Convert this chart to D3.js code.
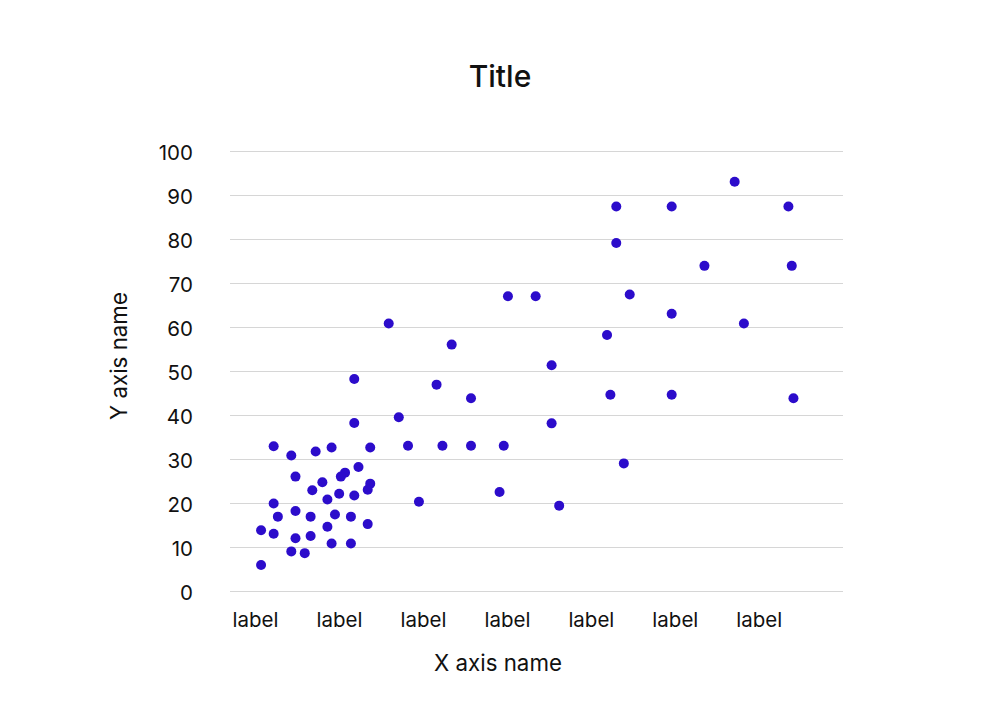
<!DOCTYPE html>
<html>
<head>
<meta charset="utf-8">
<script src="https://cdn.jsdelivr.net/npm/d3@7"></script>
<style>
  html, body { margin: 0; padding: 0; background: #fff; }
  svg { display: block; font-family: Inter, "Noto Sans", sans-serif; }
</style>
</head>
<body>
<svg id="chart" width="1000" height="721"></svg>
<script>
const title = "Title";
const xAxisName = "X axis name";
const yAxisName = "Y axis name";
const xTickLabels = ["label", "label", "label", "label", "label", "label", "label"];
const yTicks = [0, 10, 20, 30, 40, 50, 60, 70, 80, 90, 100];

const xValues = [
  1.48, 1.48, 0.52, 0.73, 1.02, 1.21, 1.67, 1.53, 1.37, 1.32,
  0.78, 1.10, 0.98, 1.67, 1.64, 1.16, 1.30, 1.48, 0.52, 0.57,
  0.78, 0.96, 1.25, 1.44, 1.64, 1.16, 0.37, 0.52, 0.78, 0.96,
  1.21, 1.44, 0.73, 0.89, 0.37,
  1.89, 2.64, 3.83, 2.46, 2.87, 2.01, 3.83, 2.12, 2.53, 2.87,
  3.26, 3.21, 2.25, 3.92, 3.31, 3.64,
  6.01, 4.60, 5.26, 6.65, 4.60, 5.65, 6.69, 4.76, 5.26, 6.12,
  4.49, 4.53, 5.26, 6.71, 4.69
];
const yValues = [
  48.2, 38.2, 32.9, 30.8, 31.7, 32.6, 32.6, 28.2, 26.9, 26.0,
  26.0, 24.7, 22.9, 24.4, 23.0, 20.8, 22.1, 21.7, 19.9, 16.9,
  18.2, 16.9, 17.4, 16.9, 15.2, 14.6, 13.8, 13.0, 12.0, 12.5,
  10.8, 10.8, 9.0, 8.6, 5.9,
  60.8, 56.0, 51.3, 46.9, 43.8, 39.5, 38.1, 33.0, 33.0, 33.0,
  33.0, 22.5, 20.3, 19.4, 67.0, 67.0,
  93.0, 87.4, 87.4, 87.4, 79.1, 73.9, 73.9, 67.4, 63.0, 60.8,
  58.2, 44.6, 44.6, 43.8, 29.0
];

const points = xValues.map((x, i) => ({ x, y: yValues[i] }));

const svg = d3.select("#chart");
const plot = { left: 230, right: 843, top: 151, bottom: 591 };

const x = d3.scaleLinear().domain([0, 7.3]).range([plot.left, plot.right]);
const y = d3.scaleLinear().domain([0, 100]).range([plot.bottom, plot.top]);

// gridlines + y tick labels
const yAxis = d3.axisLeft(y).tickValues(yTicks).tickSize(-(plot.right - plot.left)).tickPadding(37);
const gy = svg.append("g").attr("transform", `translate(${plot.left},0)`).call(yAxis);
gy.select(".domain").remove();
gy.selectAll(".tick line").attr("stroke", "#d6d6d6").attr("stroke-width", 1);
gy.selectAll(".tick text").attr("fill", "#111").attr("dy", "0.4em").style("font-size", "20.5px").style("font-family", "Inter, sans-serif");

// x tick labels
const xAxis = d3.axisBottom(x).tickValues(d3.range(xTickLabels.length)).tickFormat((d, i) => xTickLabels[i]).tickSize(0).tickPadding(21);
const gx = svg.append("g").attr("transform", `translate(0,${plot.bottom})`).call(xAxis);
gx.select(".domain").remove();
gx.selectAll(".tick text").attr("fill", "#111").attr("text-anchor", "start").attr("dx", 2)
  .style("font-size", "20.5px").style("font-family", "Inter, sans-serif");

// points
svg.append("g").selectAll("circle").data(points).join("circle")
  .attr("cx", d => x(d.x)).attr("cy", d => y(d.y)).attr("r", 5)
  .attr("fill", "#2c0ccb");

// title
svg.append("text").attr("x", 500).attr("y", 87).attr("text-anchor", "middle")
  .style("font-size", "30px").style("font-weight", 500).attr("fill", "#111").text(title);

// axis names
svg.append("text").attr("x", 498).attr("y", 671).attr("text-anchor", "middle")
  .style("font-size", "22.3px").attr("fill", "#111").text(xAxisName);
svg.append("text").attr("transform", "translate(127,356) rotate(-90)").attr("text-anchor", "middle")
  .style("font-size", "22.3px").attr("fill", "#111").text(yAxisName);
</script>
</body>
</html>
